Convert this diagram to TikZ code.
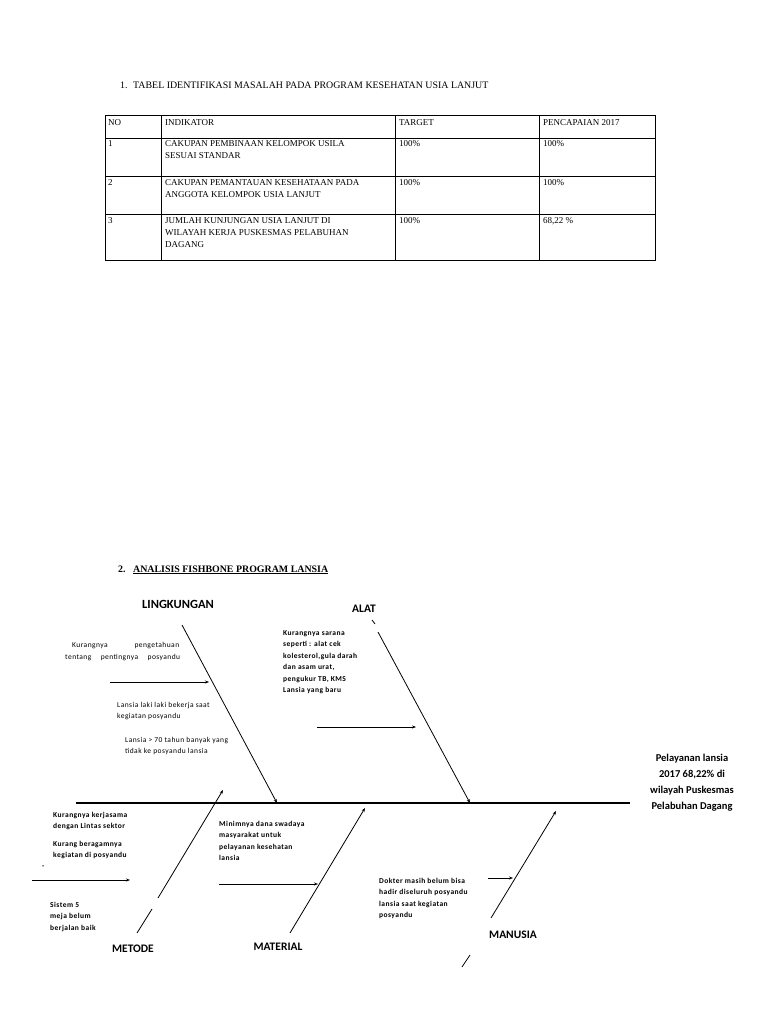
\documentclass[tikz,border=0pt]{standalone}
\usepackage{fontspec}
\setmainfont{Liberation Serif}
\newfontfamily\calibri{Carlito}
\newfontfamily\calsmall{Carlito}[LetterSpace=6]
\usetikzlibrary{arrows.meta}
\begin{document}
\begin{tikzpicture}[x=1pt,y=-1pt,
  tbl/.style={line width=0.8pt},
  tcell/.style={anchor=north west,inner sep=0pt,align=left,font=\fontsize{9}{12}\selectfont},
  ttl/.style={anchor=base west,inner sep=0pt,font=\fontsize{9.9}{12}\selectfont},
  catlbl/.style={inner sep=0pt,font=\calibri\bfseries\fontsize{11.5}{13}\selectfont},
  smallreg/.style={anchor=north west,inner sep=0pt,align=left,font=\calsmall\fontsize{7.5}{11.5}\selectfont},
  smallbold/.style={anchor=north west,inner sep=0pt,align=left,font=\calsmall\bfseries\fontsize{7.5}{11.5}\selectfont},
  bone/.style={line width=0.8pt,-{Stealth[length=4pt,width=3pt]}},
  plainbone/.style={line width=0.8pt},
  spine/.style={line width=2pt}]
\useasboundingbox[fill=white] (0,0) rectangle (768,1024);

% ---------- Table ----------
\node[ttl] (n1) at (120,89) {1.};
\node[ttl] (t1) at (133,89) {TABEL IDENTIFIKASI MASALAH PADA PROGRAM KESEHATAN USIA LANJUT};

\draw[tbl] (105,115) rectangle (655,260);
\draw[tbl] (105,138) -- (655,138);
\draw[tbl] (105,176) -- (655,176);
\draw[tbl] (105,214) -- (655,214);
\draw[tbl] (161,115) -- (161,260);
\draw[tbl] (395,115) -- (395,260);
\draw[tbl] (539,115) -- (539,260);

\node[tcell] (h1) at (108,119) {NO};
\node[tcell] (h2) at (165,119) {INDIKATOR};
\node[tcell] (h3) at (399,119) {TARGET};
\node[tcell] (h4) at (543,119) {PENCAPAIAN 2017};

\node[tcell] (r1a) at (108,140) {1};
\node[tcell] (r1b) at (165,140) {CAKUPAN PEMBINAAN KELOMPOK USILA\\SESUAI STANDAR};
\node[tcell] (r1c) at (399,140) {100\%};
\node[tcell] (r1d) at (543,140) {100\%};

\node[tcell] (r2a) at (108,179) {2};
\node[tcell] (r2b) at (165,179) {CAKUPAN PEMANTAUAN KESEHATAAN PADA\\ANGGOTA KELOMPOK USIA LANJUT};
\node[tcell] (r2c) at (399,179) {100\%};
\node[tcell] (r2d) at (543,179) {100\%};

\node[tcell] (r3a) at (108,217) {3};
\node[tcell] (r3b) at (165,217) {JUMLAH KUNJUNGAN USIA LANJUT DI\\WILAYAH KERJA PUSKESMAS PELABUHAN\\DAGANG};
\node[tcell] (r3c) at (399,217) {100\%};
\node[tcell] (r3d) at (543,217) {68,22 \%};

% ---------- Fishbone ----------
\node[ttl,font=\bfseries\fontsize{9.9}{12}\selectfont] (n2) at (118,572) {2.};
\node[ttl,font=\bfseries\fontsize{9.9}{12}\selectfont] (t2) at (133,572) {\underline{ANALISIS FISHBONE PROGRAM LANSIA}};

\node[catlbl,font=\calibri\bfseries\fontsize{12.5}{14}\selectfont] (lingk) at (178,604) {LINGKUNGAN};
\node[catlbl] (alat) at (364,609) {ALAT};
\node[catlbl] (metode) at (133,949) {METODE};
\node[catlbl] (material) at (278,947) {MATERIAL};
\node[catlbl] (manusia) at (513,935) {MANUSIA};

\node[align=center,inner sep=0pt,font=\calibri\bfseries\fontsize{10.5}{16}\selectfont] (result) at (692,783)
  {Pelayanan lansia\\2017 68,22\% di\\wilayah Puskesmas\\Pelabuhan Dagang};

% spine
\coordinate (sL) at (76,803);
\coordinate (sR) at (630,803);
\draw[spine] (sL) -- (sR);

% bones
\coordinate (Lt) at (182,625); \coordinate (Lb) at (277,803);
\draw[bone] (Lt) -- (Lb);
\coordinate (At1) at (372,620); \coordinate (At2) at (375,624);
\draw[plainbone] (At1) -- (At2);
\coordinate (At) at (378,632); \coordinate (Ab) at (470,803);
\draw[bone] (At) -- (Ab);
\coordinate (Mb1) at (137,933); \coordinate (Mb2) at (152,909);
\draw[plainbone] (Mb1) -- (Mb2);
\coordinate (Mb) at (158,898); \coordinate (Mt) at (223,790);
\draw[bone] (Mb) -- (Mt);
\coordinate (Tb) at (290,933); \coordinate (Tt) at (365,808);
\draw[bone] (Tb) -- (Tt);
\coordinate (Nb) at (491,918); \coordinate (Nt) at (556,811);
\draw[bone] (Nb) -- (Nt);
\coordinate (Nk1) at (462,967); \coordinate (Nk2) at (470,955);
\draw[plainbone] (Nk1) -- (Nk2);

% sub arrows
\coordinate (s1a) at (110,682); \coordinate (s1b) at (209,682);
\draw[bone] (s1a) -- (s1b);
\coordinate (s2a) at (317,727); \coordinate (s2b) at (416,727);
\draw[bone] (s2a) -- (s2b);
\coordinate (s3a) at (32,880); \coordinate (s3b) at (130,880);
\draw[bone] (s3a) -- (s3b);
\coordinate (s4a) at (219,884); \coordinate (s4b) at (318,884);
\draw[bone] (s4a) -- (s4b);
\coordinate (s5a) at (488,878); \coordinate (s5b) at (513,878);
\draw[bone] (s5a) -- (s5b);

% cause texts
\node[smallreg] (c1a) at (72,642) {\hbox to 107pt{Kurangnya\hfill pengetahuan}};
\node[smallreg] (c1b) at (65,654) {\hbox to 115pt{tentang\hfill pentingnya\hfill posyandu}};
\node[smallreg] (c2) at (117,702) {Lansia laki laki bekerja saat\\kegiatan posyandu};
\node[smallreg] (c3) at (125,737) {Lansia > 70 tahun banyak yang\\tidak ke posyandu lansia};
\node[smallbold] (c4) at (283,630) {Kurangnya sarana\\seperti : alat cek\\kolesterol,gula darah\\dan asam urat,\\pengukur TB, KMS\\Lansia yang baru};
\node[smallbold] (c5) at (53,812) {Kurangnya kerjasama\\dengan Lintas sektor};
\node[smallbold] (c6) at (53,841) {Kurang beragamnya\\kegiatan di posyandu};
\node[smallbold] (c7) at (42,866) {-};
\node[smallbold] (c8) at (50,902) {Sistem 5\\meja belum\\berjalan baik};
\node[smallbold] (c9) at (219,821) {Minimnya dana swadaya\\masyarakat untuk\\pelayanan kesehatan\\lansia};
\node[smallbold] (c10) at (379,878) {Dokter masih belum bisa\\hadir diseluruh posyandu\\lansia saat kegiatan\\posyandu};
\end{tikzpicture}
\end{document}
